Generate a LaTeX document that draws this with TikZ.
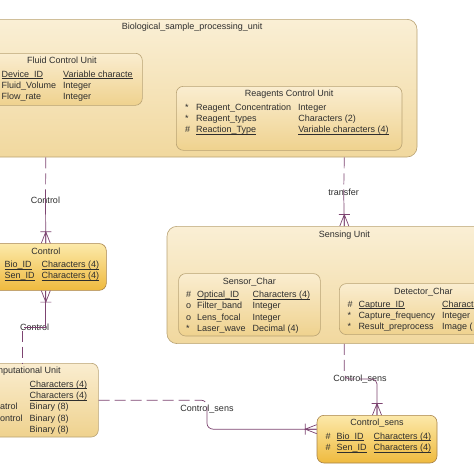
\documentclass[tikz,border=0pt]{standalone}
\usepackage{fontspec}
\setmainfont{Liberation Sans}
\usetikzlibrary{calc,positioning}

\definecolor{bigtop}{HTML}{FAEFD5}
\definecolor{bigbot}{HTML}{F1D89E}
\definecolor{enttop}{HTML}{FAEDD0}
\definecolor{entbot}{HTML}{EFD28E}
\definecolor{keytop}{HTML}{FCE9AA}
\definecolor{keybot}{HTML}{EFBA3E}
\definecolor{edgegray}{HTML}{B9A374}
\definecolor{keyedge}{HTML}{A8834A}
\definecolor{relline}{HTML}{7D4471}
\definecolor{txt}{HTML}{2E2E2E}

\newcommand{\rowfont}{\fontsize{9}{11.3}\selectfont}
% key attributes are underlined at one depth
\newsavebox{\keybox}
\newcommand{\keyul}[1]{\sbox{\keybox}{#1}\rlap{\rule[-1.5pt]{\wd\keybox}{0.5pt}}\usebox{\keybox}}

\tikzset{
  % boxes are placed by their top left corner
  outer/.style={draw=edgegray, line width=0.6pt, rounded corners=10pt,
    top color=bigtop, bottom color=bigbot,
    anchor=north west, inner sep=0pt},
  entity/.style={outer, rounded corners=7pt,
    top color=enttop, bottom color=entbot},
  keyent/.style={entity, draw=keyedge,
    top color=keytop, bottom color=keybot},
  title/.style={anchor=base, font=\rowfont, text=txt},
  rows/.style={anchor=north west, inner sep=0pt, font=\rowfont, text=txt},
  lbl/.style={font=\rowfont, text=txt, inner sep=0pt},
  % relationship lines
  conn/.style={draw=relline, line width=0.7pt},
  rel/.style={dash pattern=on 11pt off 5pt},
  crow/.pic={\draw[conn] (-4.5,0) -- (0,-11.5) -- (4.5,0) (0,-11.5) -- (0,0)
    (-5.5,-11.5) -- (5.5,-11.5);}
}

\newcommand{\attrs}[1]{\begin{tabular}{@{}p{5pt}@{\hspace{6pt}}l@{\hspace{7pt}}l@{}}#1\end{tabular}}

\begin{document}
\begin{tikzpicture}[x=1pt, y=-1pt]

\useasboundingbox (0,0) rectangle (474,474);
\clip (0,0) rectangle (474,474);
\fill[white] (0,0) rectangle (474,474);

%% upper unit
\node (bio) [outer, minimum width=449.7pt, minimum height=137.7pt] at (-33,19) {};
\node (biot) [title] at ([yshift=-10.6pt]bio.north) {Biological\_sample\_processing\_unit};

\node (fluid) [entity, minimum width=161pt, minimum height=52pt] at (-19,53) {};
\node (fluidt) [title] at ([yshift=-10.8pt]fluid.north) {Fluid Control Unit};
\node (fluidr) [rows] at ([shift={(9.5,16.2)}]fluid.north west) {\attrs{
   & \keyul{Device\_ID} & \keyul{Variable characte}\\
   & Fluid\_Volume & Integer\\
   & Flow\_rate & Integer}};

\node (reag) [entity, minimum width=225.7pt, minimum height=64pt] at (176,86) {};
\node (reagt) [title] at ([yshift=-10.6pt]reag.north) {Reagents Control Unit};
\node (reagr) [rows] at ([shift={(9,16.2)}]reag.north west) {\attrs{
  {*} & Reagent\_Concentration & Integer\\
  {*} & Reagent\_types & Characters (2)\\
  \# & \keyul{Reaction\_Type} & \keyul{Variable characters (4)}}};

%% control
\node (ctl) [keyent, minimum width=121pt, minimum height=46.7pt] at (-15,243.3) {};
\node (ctlt) [title] at ([yshift=-10.8pt]ctl.north) {Control};
\node (ctlr) [rows] at ([shift={(8.5,16.2)}]ctl.north west) {\attrs{
   & \keyul{Bio\_ID} & \keyul{Characters (4)}\\
   & \keyul{Sen\_ID} & \keyul{Characters (4)}}};

%% computational unit
\node (comp) [entity, minimum width=152pt, minimum height=73.7pt] at (-54,363) {};
\node (compt) [title] at ([yshift=-10.8pt]comp.north) {Computational Unit};
\node (compr) [rows] at ([shift={(43,16.2)}]comp.north west) {\attrs{
   & & \keyul{Characters (4)}\\
   & & \keyul{Characters (4)}\\
   & atrol & Binary (8)\\
   & ontrol & Binary (8)\\
   & & Binary (8)}};

%% sensing unit
\node (sens) [outer, minimum width=354.6pt, minimum height=117.3pt] at (166.7,226) {};
\node (senst) [title] at ([yshift=-11pt]sens.north) {Sensing Unit};

\node (sensor) [entity, minimum width=141.7pt, minimum height=62.4pt] at (178.3,273.3) {};
\node (sensort) [title] at ([yshift=-10.9pt]sensor.north) {Sensor\_Char};
\node (sensorr) [rows] at ([shift={(7.7,16.2)}]sensor.north west) {\attrs{
  \# & \keyul{Optical\_ID} & \keyul{Characters (4)}\\
  o & Filter\_band & Integer\\
  o & Lens\_focal & Integer\\
  {*} & Laser\_wave & Decimal (4)}};

\node (detect) [entity, minimum width=168pt, minimum height=51pt] at (339,283.3) {};
\node (detectt) [title] at ([yshift=-10.7pt]detect.north) {Detector\_Char};
\node (detectr) [rows] at ([shift={(8.3,15.8)}]detect.north west) {\attrs{
  \# & \keyul{Capture\_ID} & \keyul{Charact}\\
  {*} & Capture\_frequency & Integer\\
  {*} & Result\_preprocess & Image (}};

%% control_sens
\node (ctls) [keyent, minimum width=120pt, minimum height=47.7pt] at (316.7,415) {};
\node (ctlst) [title] at ([yshift=-10.9pt]ctls.north) {Control\_sens};
\node (ctlsr) [rows] at ([shift={(8.6,16.3)}]ctls.north west) {\attrs{
  \# & \keyul{Bio\_ID} & \keyul{Characters (4)}\\
  \# & \keyul{Sen\_ID} & \keyul{Characters (4)}}};

%% relationships
\node (lctl) [lbl] at (45.5,200) {Control};
\draw [conn, rel] (bio.south -| ctl.north) -- (lctl.center);
\draw [conn] (lctl.center) -- (ctl.north);
\pic at (ctl.north) {crow};

\node (lctl2) [lbl] at (34.7,327) {Control};
\draw [conn] (ctl.south) |- (lctl2.center);
\draw [conn, rel] (lctl2.center) -| (comp.north);
\pic[rotate=180] at (ctl.south) {crow};

\node (ltrans) [lbl] at (343.7,192) {transfer};
\draw [conn, rel] (bio.south -| sens.north) -- (ltrans.center);
\draw [conn] (ltrans.center) -- (sens.north);
\pic at (sens.north) {crow};

\node (lcs1) [lbl] at (360,379) {Control\_sens};
\draw [conn, rel, rounded corners=5pt] (sens.south) |- (lcs1.center);
\draw [conn, rounded corners=5pt] (lcs1.center) -| (ctls.north);
\pic at (ctls.north) {crow};

\node (lcs2) [lbl] at (207,409) {Control\_sens};
\coordinate (ctlsin) at ($(ctls.west)+(0,-10)$); % line enters upper part of the box
\draw [conn, rel, rounded corners=6pt] (comp.east) -| (lcs2.center);
\draw [conn, rounded corners=6pt] (lcs2.center) |- (ctlsin);
\pic[rotate=90] at (ctlsin) {crow};

\end{tikzpicture}
\end{document}
